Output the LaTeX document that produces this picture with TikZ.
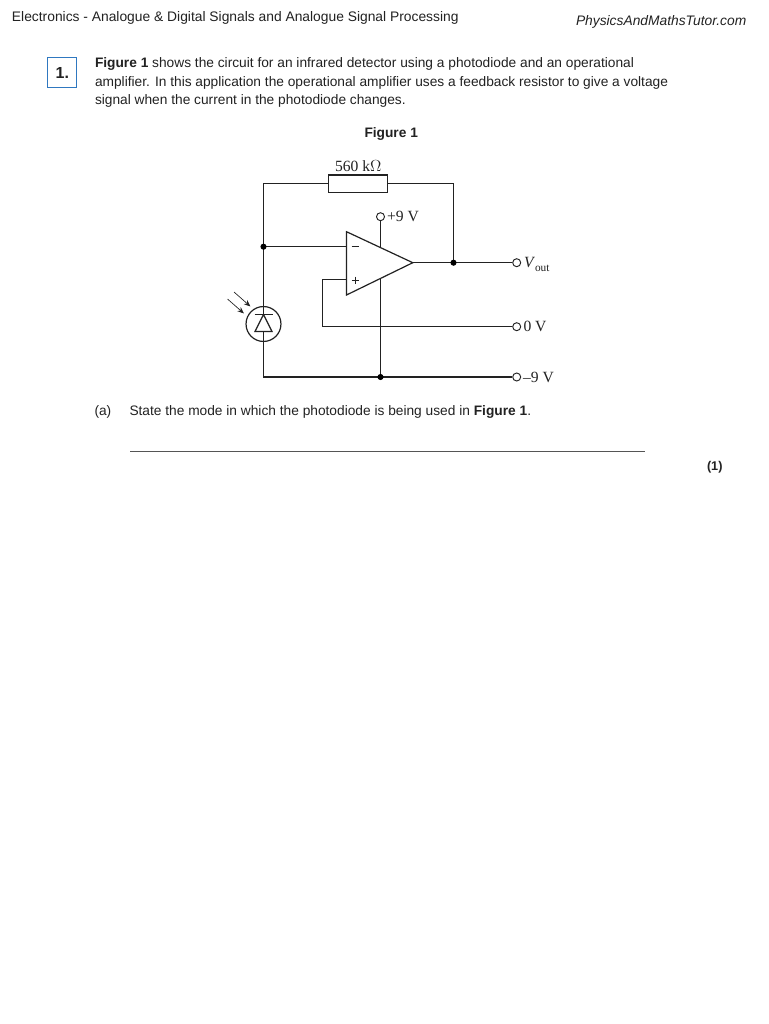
\documentclass[tikz,border=0pt]{standalone}
\usepackage{fontspec}
\setmainfont{Liberation Sans}
\newfontfamily\circfont{Liberation Serif}
\usetikzlibrary{arrows.meta}
\definecolor{ink}{HTML}{222222}
\definecolor{boxblue}{HTML}{2F78C0}
\definecolor{rule}{HTML}{555555}
\tikzset{
  x=0.75pt,y=-0.75pt,
  wire/.style={draw=ink,line width=0.9pt},
  txt/.style={anchor=base west,inner sep=0pt,outer sep=0pt,text=ink,font=\fontsize{10.3pt}{12pt}\selectfont},
  bold/.style={txt,font=\fontsize{10.3pt}{12pt}\selectfont\bfseries},
  clab/.style={anchor=base west,inner sep=0pt,outer sep=0pt,text=ink,font=\circfont\fontsize{11.7pt}{13pt}\selectfont},
  term/.style={circle,draw=ink,line width=0.7pt,fill=white,minimum size=6pt,inner sep=0pt},
  jn/.style={circle,fill=black,minimum size=4.6pt,inner sep=0pt},
  ray/.style={draw=ink,line width=0.5pt,-{Stealth[length=5pt,width=4pt]}}
}
\begin{document}
\begin{tikzpicture}
\useasboundingbox[fill=white] (0,0) rectangle (768,1024);
% page text
\node[txt,font=\fontsize{10.37pt}{12pt}\selectfont] (head) at (12,21.5) {Electronics - Analogue \& Digital Signals and Analogue Signal Processing};
\node[txt,font=\fontsize{10.35pt}{12pt}\selectfont\itshape] (site) at (576,25.5) {PhysicsAndMathsTutor.com};
\node[draw=boxblue,line width=0.8pt,minimum width=21.8pt,minimum height=22pt,inner sep=0pt,font=\fontsize{12pt}{14pt}\selectfont\bfseries,text=ink] (num) at (62.3,72.5) {1.};
\node[txt] (l1) at (95,67.5) {\textbf{Figure 1} shows the circuit for an infrared detector using a photodiode and an operational};
\node[txt] (l2) at (95,86) {amplifier. In this application the operational amplifier uses a feedback resistor to give a voltage};
\node[txt] (l3) at (95,104) {signal when the current in the photodiode changes.};
\node[bold] (fig) at (364.5,137.5) {Figure 1};
\node[txt] (qa) at (94.5,415) {(a)};
\node[txt] (qb) at (129.5,415) {State the mode in which the photodiode is being used in \textbf{Figure 1}.};
\draw[draw=rule,line width=0.45pt] (130,451) -- (645,451);
\node[bold,font=\fontsize{9.5pt}{12pt}\selectfont\bfseries] (mark) at (707,470) {(1)};
% circuit nodes
\node[draw=ink,line width=0.9pt,minimum width=44.25pt,minimum height=13pt,inner sep=0pt] (R) at (358.2,183.7) {};
\coordinate (tl) at (263.5,183.7);
\coordinate (tr) at (453.5,183.7);
\coordinate (jm) at (263.5,246.7);
\coordinate (jo) at (453.5,262.7);
\coordinate (bl) at (263.5,377);
\coordinate (js) at (380.5,377);
\coordinate (am) at (346,246.7);
\coordinate (ap) at (346,279.3);
\coordinate (lp) at (322.5,279.3);
\coordinate (lb) at (322.5,326.7);
\coordinate (A) at (346.5,231.7);
\coordinate (B) at (346.5,295);
\coordinate (C) at (412.8,262.7);
\coordinate (sup) at (380.5,247);
\coordinate (sdn) at (380.5,279);
\node[term] (tv) at (516.7,262.7) {};
\node[term] (tz) at (516.7,326.7) {};
\node[term] (tn) at (516.7,377) {};
\node[term] (tp) at (380.5,216.7) {};
\node[circle,draw=ink,line width=0.9pt,minimum size=26.2pt,inner sep=0pt] (pd) at (263.5,324) {};
% wires
\draw[wire] (R.west) -- (tl) -- (jm) -- (pd.north);
\draw[wire] (R.east) -- (tr) -- (jo);
\draw[wire] (jm) -- (am);
\draw[wire] (C) -- (tv);
\draw[wire] (ap) -- (lp) -- (lb) -- (tz);
\draw[wire] (pd.south) -- (bl) -- (tn);
\draw[wire] (tp) -- (sup);
\draw[wire] (sdn) -- (js);
% op-amp
\draw[wire] (A) -- (B) -- (C) -- cycle;
\draw[wire] (351.5,246.7) -- (358.5,246.7);
\draw[draw=ink,line width=0.6pt] (351.5,280) -- (358.5,280) (355,276.5) -- (355,283.5);
% diode
\coordinate (dt) at (263.5,314.5);
\coordinate (dl) at (255,331.5);
\coordinate (dr) at (272,331.5);
\draw[wire] (dl) -- (dr) -- (dt) -- cycle;
\draw[wire] (254.5,314.5) -- (272.5,314.5);
\draw[wire] (pd.north) -- (dt);
\draw[wire] (263.5,331.5) -- (pd.south);
% rays
\coordinate (r1s) at (234,292);
\coordinate (r1e) at (250.5,306.5);
\coordinate (r2s) at (227.5,299);
\coordinate (r2e) at (244,313.5);
\draw[ray] (r1s) -- (r1e);
\draw[ray] (r2s) -- (r2e);
% dots
\node[jn] (d1) at (jm) {};
\node[jn] (d2) at (jo) {};
\node[jn] (d3) at (js) {};
% labels
\node[clab] (rl) at (335,171) {560 k$\Omega$};
\node[clab] (p9) at (387,221.5) {+9 V};
\node[clab] (vo) at (524,267.5) {\textit{V}\raisebox{-3pt}{\fontsize{8.5pt}{9pt}\selectfont out}};
\node[clab] (zv) at (523.5,331) {0 V};
\node[clab] (nv) at (523,382) {–9 V};
\end{tikzpicture}
\end{document}
